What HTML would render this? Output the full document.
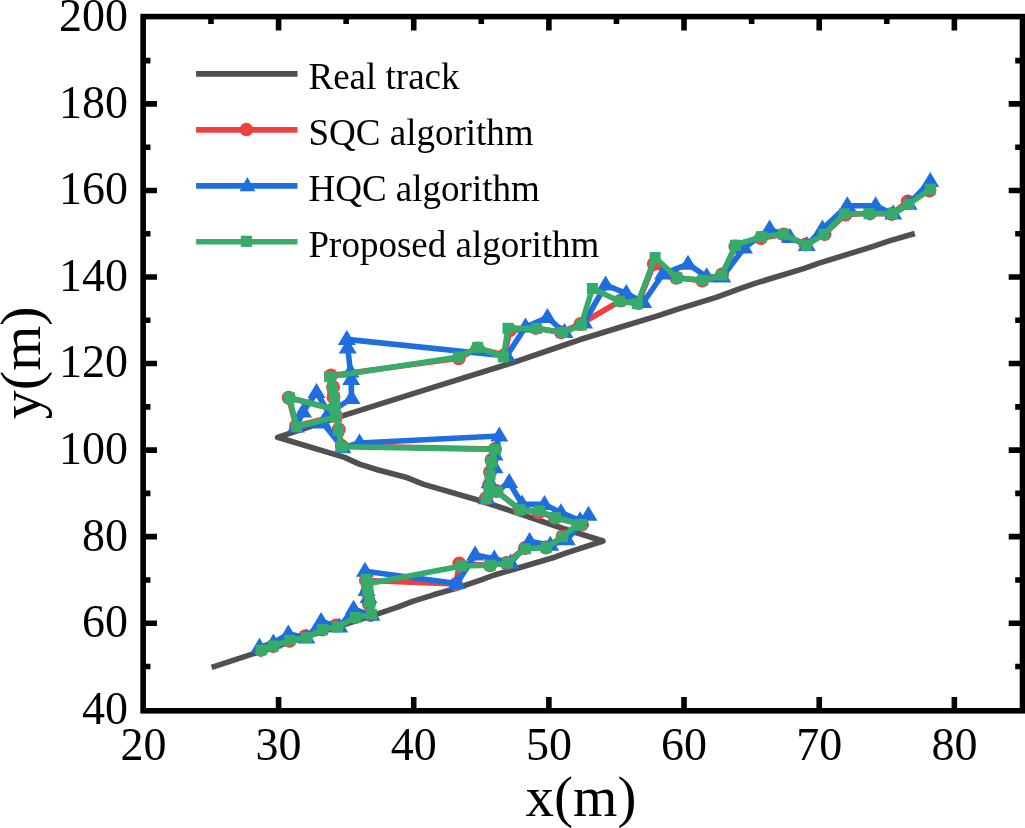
<!DOCTYPE html>
<html><head><meta charset="utf-8"><title>Track comparison</title>
<style>html,body{margin:0;padding:0;background:#fff;overflow:hidden}svg{display:block}</style>
</head><body>
<svg width="1025" height="828" viewBox="0 0 1025 828">
<rect width="1025" height="828" fill="#fff"/>
<polyline points="211.6,667.3 260.0,651.6 378.5,613.6 398.4,606.9 412.5,601.3 433.5,594.8 457.0,588.1 480.4,580.2 494.4,575.0 552.9,557.8 565.0,553.4 603.0,541.0 563.1,528.5 513.8,511.8 477.8,500.0 423.7,484.4 407.6,477.8 378.3,470.0 359.3,464.1 344.6,457.4 277.6,437.3 346.3,414.6 425.9,389.6 512.2,362.8 560.0,346.5 579.5,339.8 618.5,327.8 657.6,315.9 677.1,309.4 716.1,297.3 740.0,288.6 755.1,283.4 769.3,279.0 804.4,268.4 819.0,263.2 871.7,246.8 889.3,240.9 914.8,233.5" fill="none" stroke="#505050" stroke-width="5.6" stroke-linejoin="round" stroke-linecap="butt"/>
<polyline points="260.8,649.9 273.1,646.1 289.5,640.8 305.3,636.3 322.5,629.6 336.0,625.5 355.5,617.0 370.6,615.0 369.0,604.0 367.0,592.0 366.0,580.5 456.0,584.0 459.3,563.5 490.0,565.3 506.4,563.0 525.0,548.0 546.0,547.5 562.6,536.5 581.8,524.5 555.1,517.7 538.7,512.2 519.6,509.5 496.5,491.0 486.0,498.3 489.0,485.0 490.0,472.0 491.5,460.0 495.0,449.0 341.8,446.0 338.7,429.5 336.0,416.0 296.0,426.0 288.7,397.8 333.5,409.0 333.5,397.0 333.0,387.0 331.0,375.5 458.7,358.2 477.6,348.5 504.5,355.0 510.0,330.0 535.7,327.9 561.0,332.3 580.5,324.0 621.0,300.5 638.3,303.1 653.8,264.0 676.3,277.7 702.2,280.6 722.0,274.5 735.4,246.5 760.9,238.1 783.8,234.4 805.5,244.6 824.5,234.0 845.5,214.5 870.0,213.4 891.6,213.9 907.8,201.5 929.4,190.6" fill="none" stroke="#EF4040" stroke-width="5.6" stroke-linejoin="round" stroke-linecap="butt"/>
<circle cx="260.8" cy="649.9" r="7.0" fill="#EF4040"/><circle cx="273.1" cy="646.1" r="7.0" fill="#EF4040"/><circle cx="289.5" cy="640.8" r="7.0" fill="#EF4040"/><circle cx="305.3" cy="636.3" r="7.0" fill="#EF4040"/><circle cx="322.5" cy="629.6" r="7.0" fill="#EF4040"/><circle cx="336.0" cy="625.5" r="7.0" fill="#EF4040"/><circle cx="355.5" cy="617.0" r="7.0" fill="#EF4040"/><circle cx="370.6" cy="615.0" r="7.0" fill="#EF4040"/><circle cx="369.0" cy="604.0" r="7.0" fill="#EF4040"/><circle cx="367.0" cy="592.0" r="7.0" fill="#EF4040"/><circle cx="366.0" cy="580.5" r="7.0" fill="#EF4040"/><circle cx="456.0" cy="584.0" r="7.0" fill="#EF4040"/><circle cx="459.3" cy="563.5" r="7.0" fill="#EF4040"/><circle cx="490.0" cy="565.3" r="7.0" fill="#EF4040"/><circle cx="506.4" cy="563.0" r="7.0" fill="#EF4040"/><circle cx="525.0" cy="548.0" r="7.0" fill="#EF4040"/><circle cx="546.0" cy="547.5" r="7.0" fill="#EF4040"/><circle cx="562.6" cy="536.5" r="7.0" fill="#EF4040"/><circle cx="581.8" cy="524.5" r="7.0" fill="#EF4040"/><circle cx="555.1" cy="517.7" r="7.0" fill="#EF4040"/><circle cx="538.7" cy="512.2" r="7.0" fill="#EF4040"/><circle cx="519.6" cy="509.5" r="7.0" fill="#EF4040"/><circle cx="496.5" cy="491.0" r="7.0" fill="#EF4040"/><circle cx="486.0" cy="498.3" r="7.0" fill="#EF4040"/><circle cx="489.0" cy="485.0" r="7.0" fill="#EF4040"/><circle cx="490.0" cy="472.0" r="7.0" fill="#EF4040"/><circle cx="491.5" cy="460.0" r="7.0" fill="#EF4040"/><circle cx="495.0" cy="449.0" r="7.0" fill="#EF4040"/><circle cx="341.8" cy="446.0" r="7.0" fill="#EF4040"/><circle cx="338.7" cy="429.5" r="7.0" fill="#EF4040"/><circle cx="336.0" cy="416.0" r="7.0" fill="#EF4040"/><circle cx="296.0" cy="426.0" r="7.0" fill="#EF4040"/><circle cx="288.7" cy="397.8" r="7.0" fill="#EF4040"/><circle cx="333.5" cy="409.0" r="7.0" fill="#EF4040"/><circle cx="333.5" cy="397.0" r="7.0" fill="#EF4040"/><circle cx="333.0" cy="387.0" r="7.0" fill="#EF4040"/><circle cx="331.0" cy="375.5" r="7.0" fill="#EF4040"/><circle cx="458.7" cy="358.2" r="7.0" fill="#EF4040"/><circle cx="477.6" cy="348.5" r="7.0" fill="#EF4040"/><circle cx="504.5" cy="355.0" r="7.0" fill="#EF4040"/><circle cx="510.0" cy="330.0" r="7.0" fill="#EF4040"/><circle cx="535.7" cy="327.9" r="7.0" fill="#EF4040"/><circle cx="561.0" cy="332.3" r="7.0" fill="#EF4040"/><circle cx="580.5" cy="324.0" r="7.0" fill="#EF4040"/><circle cx="621.0" cy="300.5" r="7.0" fill="#EF4040"/><circle cx="638.3" cy="303.1" r="7.0" fill="#EF4040"/><circle cx="653.8" cy="264.0" r="7.0" fill="#EF4040"/><circle cx="676.3" cy="277.7" r="7.0" fill="#EF4040"/><circle cx="702.2" cy="280.6" r="7.0" fill="#EF4040"/><circle cx="722.0" cy="274.5" r="7.0" fill="#EF4040"/><circle cx="735.4" cy="246.5" r="7.0" fill="#EF4040"/><circle cx="760.9" cy="238.1" r="7.0" fill="#EF4040"/><circle cx="783.8" cy="234.4" r="7.0" fill="#EF4040"/><circle cx="805.5" cy="244.6" r="7.0" fill="#EF4040"/><circle cx="824.5" cy="234.0" r="7.0" fill="#EF4040"/><circle cx="845.5" cy="214.5" r="7.0" fill="#EF4040"/><circle cx="870.0" cy="213.4" r="7.0" fill="#EF4040"/><circle cx="891.6" cy="213.9" r="7.0" fill="#EF4040"/><circle cx="907.8" cy="201.5" r="7.0" fill="#EF4040"/><circle cx="929.4" cy="190.6" r="7.0" fill="#EF4040"/>
<polyline points="259.5,647.2 273.4,642.9 288.3,633.8 306.4,638.0 321.1,621.4 339.3,627.0 353.6,609.2 371.5,615.1 368.5,597.5 366.5,590.4 365.0,571.2 456.8,583.5 475.1,554.9 494.3,558.8 510.6,563.0 529.6,541.3 550.3,545.2 566.8,539.6 588.5,515.2 580.1,520.7 560.9,512.6 544.5,504.4 522.0,504.0 509.2,482.5 486.5,498.6 489.6,482.7 494.5,467.7 494.6,455.0 499.3,436.0 359.5,443.0 342.5,447.6 323.0,423.0 296.0,427.0 303.0,412.0 316.5,392.5 329.0,413.0 351.5,398.5 351.2,379.5 350.5,372.0 347.7,348.0 346.8,339.4 506.7,356.0 525.5,327.0 547.4,317.5 564.5,332.5 584.0,323.0 605.6,285.0 626.3,293.3 643.2,302.5 663.0,274.0 688.0,264.1 706.7,276.7 722.3,277.0 744.0,248.0 769.6,229.0 790.0,237.3 806.8,245.4 822.4,229.0 847.3,205.7 875.6,205.7 893.2,214.0 908.6,204.2 930.2,181.3" fill="none" stroke="#1E6EE0" stroke-width="5.6" stroke-linejoin="round" stroke-linecap="butt"/>
<path d="M259.5,637.8L268.5,652.8L250.5,652.8Z" fill="#1E6EE0"/><path d="M273.4,633.5L282.4,648.5L264.4,648.5Z" fill="#1E6EE0"/><path d="M288.3,624.4L297.3,639.4L279.3,639.4Z" fill="#1E6EE0"/><path d="M306.4,628.6L315.4,643.6L297.4,643.6Z" fill="#1E6EE0"/><path d="M321.1,612.0L330.1,627.0L312.1,627.0Z" fill="#1E6EE0"/><path d="M339.3,617.6L348.3,632.6L330.3,632.6Z" fill="#1E6EE0"/><path d="M353.6,599.8L362.6,614.8L344.6,614.8Z" fill="#1E6EE0"/><path d="M371.5,605.7L380.5,620.7L362.5,620.7Z" fill="#1E6EE0"/><path d="M368.5,588.1L377.5,603.1L359.5,603.1Z" fill="#1E6EE0"/><path d="M366.5,581.0L375.5,596.0L357.5,596.0Z" fill="#1E6EE0"/><path d="M365.0,561.8L374.0,576.8L356.0,576.8Z" fill="#1E6EE0"/><path d="M456.8,574.1L465.8,589.1L447.8,589.1Z" fill="#1E6EE0"/><path d="M475.1,545.5L484.1,560.5L466.1,560.5Z" fill="#1E6EE0"/><path d="M494.3,549.4L503.3,564.4L485.3,564.4Z" fill="#1E6EE0"/><path d="M510.6,553.6L519.6,568.6L501.6,568.6Z" fill="#1E6EE0"/><path d="M529.6,531.9L538.6,546.9L520.6,546.9Z" fill="#1E6EE0"/><path d="M550.3,535.8L559.3,550.8L541.3,550.8Z" fill="#1E6EE0"/><path d="M566.8,530.2L575.8,545.2L557.8,545.2Z" fill="#1E6EE0"/><path d="M588.5,505.8L597.5,520.8L579.5,520.8Z" fill="#1E6EE0"/><path d="M580.1,511.3L589.1,526.3L571.1,526.3Z" fill="#1E6EE0"/><path d="M560.9,503.2L569.9,518.2L551.9,518.2Z" fill="#1E6EE0"/><path d="M544.5,495.0L553.5,510.0L535.5,510.0Z" fill="#1E6EE0"/><path d="M522.0,494.6L531.0,509.6L513.0,509.6Z" fill="#1E6EE0"/><path d="M509.2,473.1L518.2,488.1L500.2,488.1Z" fill="#1E6EE0"/><path d="M486.5,489.2L495.5,504.2L477.5,504.2Z" fill="#1E6EE0"/><path d="M489.6,473.3L498.6,488.3L480.6,488.3Z" fill="#1E6EE0"/><path d="M494.5,458.3L503.5,473.3L485.5,473.3Z" fill="#1E6EE0"/><path d="M494.6,445.6L503.6,460.6L485.6,460.6Z" fill="#1E6EE0"/><path d="M499.3,426.6L508.3,441.6L490.3,441.6Z" fill="#1E6EE0"/><path d="M359.5,433.6L368.5,448.6L350.5,448.6Z" fill="#1E6EE0"/><path d="M342.5,438.2L351.5,453.2L333.5,453.2Z" fill="#1E6EE0"/><path d="M323.0,413.6L332.0,428.6L314.0,428.6Z" fill="#1E6EE0"/><path d="M296.0,417.6L305.0,432.6L287.0,432.6Z" fill="#1E6EE0"/><path d="M303.0,402.6L312.0,417.6L294.0,417.6Z" fill="#1E6EE0"/><path d="M316.5,383.1L325.5,398.1L307.5,398.1Z" fill="#1E6EE0"/><path d="M329.0,403.6L338.0,418.6L320.0,418.6Z" fill="#1E6EE0"/><path d="M351.5,389.1L360.5,404.1L342.5,404.1Z" fill="#1E6EE0"/><path d="M351.2,370.1L360.2,385.1L342.2,385.1Z" fill="#1E6EE0"/><path d="M350.5,362.6L359.5,377.6L341.5,377.6Z" fill="#1E6EE0"/><path d="M347.7,338.6L356.7,353.6L338.7,353.6Z" fill="#1E6EE0"/><path d="M346.8,330.0L355.8,345.0L337.8,345.0Z" fill="#1E6EE0"/><path d="M506.7,346.6L515.7,361.6L497.7,361.6Z" fill="#1E6EE0"/><path d="M525.5,317.6L534.5,332.6L516.5,332.6Z" fill="#1E6EE0"/><path d="M547.4,308.1L556.4,323.1L538.4,323.1Z" fill="#1E6EE0"/><path d="M564.5,323.1L573.5,338.1L555.5,338.1Z" fill="#1E6EE0"/><path d="M584.0,313.6L593.0,328.6L575.0,328.6Z" fill="#1E6EE0"/><path d="M605.6,275.6L614.6,290.6L596.6,290.6Z" fill="#1E6EE0"/><path d="M626.3,283.9L635.3,298.9L617.3,298.9Z" fill="#1E6EE0"/><path d="M643.2,293.1L652.2,308.1L634.2,308.1Z" fill="#1E6EE0"/><path d="M663.0,264.6L672.0,279.6L654.0,279.6Z" fill="#1E6EE0"/><path d="M688.0,254.7L697.0,269.7L679.0,269.7Z" fill="#1E6EE0"/><path d="M706.7,267.3L715.7,282.3L697.7,282.3Z" fill="#1E6EE0"/><path d="M722.3,267.6L731.3,282.6L713.3,282.6Z" fill="#1E6EE0"/><path d="M744.0,238.6L753.0,253.6L735.0,253.6Z" fill="#1E6EE0"/><path d="M769.6,219.6L778.6,234.6L760.6,234.6Z" fill="#1E6EE0"/><path d="M790.0,227.9L799.0,242.9L781.0,242.9Z" fill="#1E6EE0"/><path d="M806.8,236.0L815.8,251.0L797.8,251.0Z" fill="#1E6EE0"/><path d="M822.4,219.6L831.4,234.6L813.4,234.6Z" fill="#1E6EE0"/><path d="M847.3,196.3L856.3,211.3L838.3,211.3Z" fill="#1E6EE0"/><path d="M875.6,196.3L884.6,211.3L866.6,211.3Z" fill="#1E6EE0"/><path d="M893.2,204.6L902.2,219.6L884.2,219.6Z" fill="#1E6EE0"/><path d="M908.6,194.8L917.6,209.8L899.6,209.8Z" fill="#1E6EE0"/><path d="M930.2,171.9L939.2,186.9L921.2,186.9Z" fill="#1E6EE0"/>
<polyline points="261.3,650.0 273.4,645.9 289.8,640.3 306.5,637.7 322.5,629.5 337.5,626.8 355.4,617.5 371.5,614.2 369.5,602.0 368.0,591.0 366.2,579.2 366.6,584.0 461.5,566.0 490.1,565.3 507.5,562.9 525.5,548.8 546.2,547.6 562.4,536.7 577.2,525.0 581.5,524.4 555.5,517.5 539.4,510.9 520.1,509.7 497.2,491.7 486.4,498.6 489.0,487.0 490.0,475.0 491.5,462.0 495.4,449.4 341.5,446.8 338.6,430.5 336.5,417.0 296.5,426.6 289.5,397.8 335.0,409.5 334.5,398.0 332.5,388.0 329.7,376.7 458.7,357.0 477.6,347.4 503.5,357.0 508.0,328.3 536.5,328.4 562.2,332.5 581.2,325.1 592.4,288.5 619.5,301.2 637.4,303.7 655.1,257.5 676.9,277.8 702.7,280.3 721.8,275.0 735.5,245.2 761.4,236.7 783.5,234.2 806.4,245.2 823.9,234.3 844.4,213.8 869.0,213.5 892.3,213.5 908.5,204.3 930.5,189.2" fill="none" stroke="#37AB69" stroke-width="5.6" stroke-linejoin="round" stroke-linecap="butt"/>
<rect x="255.8" y="644.5" width="11.0" height="11.0" fill="#37AB69"/><rect x="267.9" y="640.4" width="11.0" height="11.0" fill="#37AB69"/><rect x="284.3" y="634.8" width="11.0" height="11.0" fill="#37AB69"/><rect x="301.0" y="632.2" width="11.0" height="11.0" fill="#37AB69"/><rect x="317.0" y="624.0" width="11.0" height="11.0" fill="#37AB69"/><rect x="332.0" y="621.3" width="11.0" height="11.0" fill="#37AB69"/><rect x="349.9" y="612.0" width="11.0" height="11.0" fill="#37AB69"/><rect x="366.0" y="608.7" width="11.0" height="11.0" fill="#37AB69"/><rect x="364.0" y="596.5" width="11.0" height="11.0" fill="#37AB69"/><rect x="362.5" y="585.5" width="11.0" height="11.0" fill="#37AB69"/><rect x="360.7" y="573.7" width="11.0" height="11.0" fill="#37AB69"/><rect x="361.1" y="578.5" width="11.0" height="11.0" fill="#37AB69"/><rect x="456.0" y="560.5" width="11.0" height="11.0" fill="#37AB69"/><rect x="484.6" y="559.8" width="11.0" height="11.0" fill="#37AB69"/><rect x="502.0" y="557.4" width="11.0" height="11.0" fill="#37AB69"/><rect x="520.0" y="543.3" width="11.0" height="11.0" fill="#37AB69"/><rect x="540.7" y="542.1" width="11.0" height="11.0" fill="#37AB69"/><rect x="556.9" y="531.2" width="11.0" height="11.0" fill="#37AB69"/><rect x="571.7" y="519.5" width="11.0" height="11.0" fill="#37AB69"/><rect x="576.0" y="518.9" width="11.0" height="11.0" fill="#37AB69"/><rect x="550.0" y="512.0" width="11.0" height="11.0" fill="#37AB69"/><rect x="533.9" y="505.4" width="11.0" height="11.0" fill="#37AB69"/><rect x="514.6" y="504.2" width="11.0" height="11.0" fill="#37AB69"/><rect x="491.7" y="486.2" width="11.0" height="11.0" fill="#37AB69"/><rect x="480.9" y="493.1" width="11.0" height="11.0" fill="#37AB69"/><rect x="483.5" y="481.5" width="11.0" height="11.0" fill="#37AB69"/><rect x="484.5" y="469.5" width="11.0" height="11.0" fill="#37AB69"/><rect x="486.0" y="456.5" width="11.0" height="11.0" fill="#37AB69"/><rect x="489.9" y="443.9" width="11.0" height="11.0" fill="#37AB69"/><rect x="336.0" y="441.3" width="11.0" height="11.0" fill="#37AB69"/><rect x="333.1" y="425.0" width="11.0" height="11.0" fill="#37AB69"/><rect x="331.0" y="411.5" width="11.0" height="11.0" fill="#37AB69"/><rect x="291.0" y="421.1" width="11.0" height="11.0" fill="#37AB69"/><rect x="284.0" y="392.3" width="11.0" height="11.0" fill="#37AB69"/><rect x="329.5" y="404.0" width="11.0" height="11.0" fill="#37AB69"/><rect x="329.0" y="392.5" width="11.0" height="11.0" fill="#37AB69"/><rect x="327.0" y="382.5" width="11.0" height="11.0" fill="#37AB69"/><rect x="324.2" y="371.2" width="11.0" height="11.0" fill="#37AB69"/><rect x="453.2" y="351.5" width="11.0" height="11.0" fill="#37AB69"/><rect x="472.1" y="341.9" width="11.0" height="11.0" fill="#37AB69"/><rect x="498.0" y="351.5" width="11.0" height="11.0" fill="#37AB69"/><rect x="502.5" y="322.8" width="11.0" height="11.0" fill="#37AB69"/><rect x="531.0" y="322.9" width="11.0" height="11.0" fill="#37AB69"/><rect x="556.7" y="327.0" width="11.0" height="11.0" fill="#37AB69"/><rect x="575.7" y="319.6" width="11.0" height="11.0" fill="#37AB69"/><rect x="586.9" y="283.0" width="11.0" height="11.0" fill="#37AB69"/><rect x="614.0" y="295.7" width="11.0" height="11.0" fill="#37AB69"/><rect x="631.9" y="298.2" width="11.0" height="11.0" fill="#37AB69"/><rect x="649.6" y="252.0" width="11.0" height="11.0" fill="#37AB69"/><rect x="671.4" y="272.3" width="11.0" height="11.0" fill="#37AB69"/><rect x="697.2" y="274.8" width="11.0" height="11.0" fill="#37AB69"/><rect x="716.3" y="269.5" width="11.0" height="11.0" fill="#37AB69"/><rect x="730.0" y="239.7" width="11.0" height="11.0" fill="#37AB69"/><rect x="755.9" y="231.2" width="11.0" height="11.0" fill="#37AB69"/><rect x="778.0" y="228.7" width="11.0" height="11.0" fill="#37AB69"/><rect x="800.9" y="239.7" width="11.0" height="11.0" fill="#37AB69"/><rect x="818.4" y="228.8" width="11.0" height="11.0" fill="#37AB69"/><rect x="838.9" y="208.3" width="11.0" height="11.0" fill="#37AB69"/><rect x="863.5" y="208.0" width="11.0" height="11.0" fill="#37AB69"/><rect x="886.8" y="208.0" width="11.0" height="11.0" fill="#37AB69"/><rect x="903.0" y="198.8" width="11.0" height="11.0" fill="#37AB69"/><rect x="925.0" y="183.7" width="11.0" height="11.0" fill="#37AB69"/>
<rect x="143.15" y="16.6" width="879.35" height="694.1999999999999" fill="none" stroke="#000" stroke-width="5.6"/>
<path d="M278.56,710.8V697.00 M413.72,710.8V697.00 M548.88,710.8V697.00 M684.04,710.8V697.00 M819.20,710.8V697.00 M954.36,710.8V697.00 M210.98,16.6V23.90 M278.56,16.6V30.40 M346.14,16.6V23.90 M413.72,16.6V30.40 M481.30,16.6V23.90 M548.88,16.6V30.40 M616.46,16.6V23.90 M684.04,16.6V30.40 M751.62,16.6V23.90 M819.20,16.6V30.40 M886.78,16.6V23.90 M954.36,16.6V30.40 M143.15,666.48H150.45 M1022.5,666.48H1015.20 M143.15,623.20H156.95 M1022.5,623.20H1008.70 M143.15,579.93H150.45 M1022.5,579.93H1015.20 M143.15,536.65H156.95 M1022.5,536.65H1008.70 M143.15,493.38H150.45 M1022.5,493.38H1015.20 M143.15,450.10H156.95 M1022.5,450.10H1008.70 M143.15,406.83H150.45 M1022.5,406.83H1015.20 M143.15,363.55H156.95 M1022.5,363.55H1008.70 M143.15,320.28H150.45 M1022.5,320.28H1015.20 M143.15,277.00H156.95 M1022.5,277.00H1008.70 M143.15,233.73H150.45 M1022.5,233.73H1015.20 M143.15,190.45H156.95 M1022.5,190.45H1008.70 M143.15,147.18H150.45 M1022.5,147.18H1015.20 M143.15,103.90H156.95 M1022.5,103.90H1008.70 M143.15,60.63H150.45 M1022.5,60.63H1015.20" stroke="#000" stroke-width="5.6" fill="none"/>
<g font-family="Liberation Serif, Times New Roman, serif" font-size="46" fill="#000">
<text x="128" y="723.5" text-anchor="end">40</text>
<text x="128" y="637.0" text-anchor="end">60</text>
<text x="128" y="550.5" text-anchor="end">80</text>
<text x="128" y="463.9" text-anchor="end">100</text>
<text x="128" y="377.4" text-anchor="end">120</text>
<text x="128" y="290.8" text-anchor="end">140</text>
<text x="128" y="204.3" text-anchor="end">160</text>
<text x="128" y="117.7" text-anchor="end">180</text>
<text x="128" y="31.2" text-anchor="end">200</text>
<text x="143.4" y="760.3" text-anchor="middle">20</text>
<text x="278.6" y="760.3" text-anchor="middle">30</text>
<text x="413.7" y="760.3" text-anchor="middle">40</text>
<text x="548.9" y="760.3" text-anchor="middle">50</text>
<text x="684.0" y="760.3" text-anchor="middle">60</text>
<text x="819.2" y="760.3" text-anchor="middle">70</text>
<text x="954.4" y="760.3" text-anchor="middle">80</text>
</g>
<text x="581" y="816" text-anchor="middle" font-family="Liberation Serif, Times New Roman, serif" font-size="57">x(m)</text>
<text transform="translate(40.3,362.8) rotate(-90)" text-anchor="middle" font-family="Liberation Serif, Times New Roman, serif" font-size="58">y(m)</text>
<line x1="196.1" y1="73.9" x2="297.5" y2="73.9" stroke="#505050" stroke-width="5.6"/>
<text x="308.5" y="89.2" font-family="Liberation Serif, Times New Roman, serif" font-size="37">Real track</text>
<line x1="196.1" y1="129.9" x2="297.5" y2="129.9" stroke="#EF4040" stroke-width="5.6"/>
<circle cx="246.4" cy="129.4" r="6.7" fill="#EF4040"/>
<text x="308.5" y="145.2" font-family="Liberation Serif, Times New Roman, serif" font-size="37">SQC algorithm</text>
<line x1="196.1" y1="185.9" x2="297.5" y2="185.9" stroke="#1E6EE0" stroke-width="5.6"/>
<path d="M247.4,177.1L255.3,191.2L239.5,191.2Z" fill="#1E6EE0"/>
<text x="308.5" y="201.2" font-family="Liberation Serif, Times New Roman, serif" font-size="37">HQC algorithm</text>
<line x1="196.1" y1="241.8" x2="297.5" y2="241.8" stroke="#37AB69" stroke-width="5.6"/>
<rect x="240.8" y="235.7" width="11.2" height="11.2" fill="#37AB69"/>
<text x="308.5" y="257.1" font-family="Liberation Serif, Times New Roman, serif" font-size="37">Proposed algorithm</text>
</svg>
</body></html>
